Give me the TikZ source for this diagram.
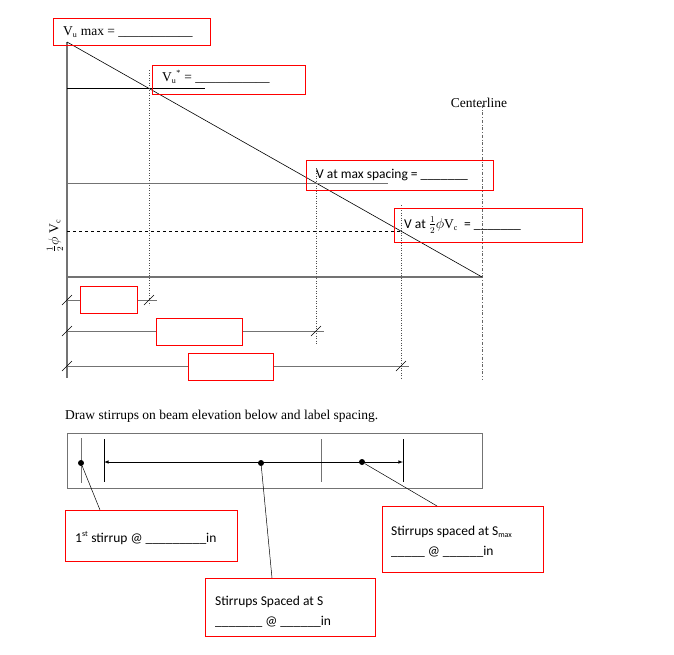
\documentclass[tikz,border=0pt]{standalone}
\usepackage{fontspec}
\setmainfont{Liberation Serif}
\newfontfamily\carl{Carlito}
\newcommand\fz{\fontsize{13.5pt}{16pt}\selectfont}
\newcommand\sbz{\fontsize{8pt}{9pt}\selectfont}
\begin{document}
\begin{tikzpicture}[x=1pt,y=-1pt,
  rb/.style={draw=red,line width=0.9pt},
  ax/.style={draw=black!55,line width=1.2pt},
  dot/.style={dotted,black!70,line width=0.5pt},
  tk/.style={line width=0.6pt},
  lbl/.style={anchor=west,inner sep=0pt,font=\fz},
  pt/.style={circle,fill=black,inner sep=0pt,minimum size=6pt}]
\useasboundingbox (0,0) rectangle (674,654);
% axes
\coordinate (top) at (67,42); \coordinate (axb) at (67,378);
\coordinate (end) at (482,277);
\draw[ax] (top) -- (axb);
\draw[ax] (67,277) -- (end);
\draw[line width=0.6pt] (top) -- (end);
\draw[line width=0.7pt] (67,88) -- (205,88);
\draw[ax,line width=0.9pt] (67,183) -- (388,183);
\draw[dashed,line width=0.6pt] (67,231) -- (401,231);
\draw[dot] (149,70) -- (149,305);
\draw[dot] (316,168) -- (316,345);
\draw[dot] (401,205) -- (401,378);
\draw[dash dot,black!60,line width=0.8pt] (482,105) -- (482,380);
\node[font=\fz,anchor=base] (cl) at (479,107) {Centerline};
\node[rotate=90,font=\fz] (half) at (55,236) {$\frac{1}{2}\phi$ V\textsubscript{\sbz c}};
% red label boxes
\draw[rb] (53,18) rectangle (210,45);
\node[lbl] (vmax) at (63,32) {V\textsubscript{\sbz u} max = \_\_\_\_\_\_\_\_\_\_\_};
\draw[rb] (152,65) rectangle (305,94);
\node[lbl] (vs) at (162,77) {V\textsubscript{\sbz u}\textsuperscript{\sbz *} = \_\_\_\_\_\_\_\_\_\_\_};
\draw[rb] (306,160) rectangle (493,190);
\node[lbl,font=\carl\fz] (vms) at (316,175) {V at max spacing = \_\_\_\_\_\_\_};
\draw[rb] (394,208) rectangle (582,242);
\node[lbl,font=\carl\fz] (vhc) at (404,225) {V at $\frac{1}{2}$\textrm{$\phi$V\textsubscript{\sbz c}} \ = \_\_\_\_\_\_\_};
% dimension lines
\foreach \y/\x in {300/149,331/316,366/401}{
  \draw[ax,line width=0.8pt] (67,\y) -- (\x+8,\y);
  \draw[tk] (62,\y+5) -- (72,\y-5);
  \draw[tk] (\x-5,\y+5) -- (\x+5,\y-5);
}
\draw[rb,fill=white] (80,286) rectangle (137,313);
\draw[rb,fill=white] (156,318) rectangle (242,345);
\draw[rb,fill=white] (188,353) rectangle (273,380);
\node[lbl] (draw) at (65,416) {Draw stirrups on beam elevation below and label spacing.};
% beam
\draw[ax,line width=0.9pt] (67,433) rectangle (482,488);
\draw[black!55,line width=1pt] (81,438) -- (81,483);
\draw[line width=0.8pt] (104,439) -- (104,482);
\draw[black!55,line width=1pt] (321,439) -- (321,482);
\draw[line width=0.8pt] (403,439) -- (403,482);
\draw[-latex,line width=0.6pt] (110,462) -- (403,462);
\draw[-latex,line width=0.6pt] (250,462) -- (104,462);
\node[pt] (d1) at (81,463) {};
\node[pt] (d2) at (261,463) {};
\node[pt] (d3) at (362,462) {};
% callouts
\draw[rb] (65,510) rectangle (237,561);
\node[lbl,font=\carl\fz] (c1) at (75,538) {1\textsuperscript{\sbz st} stirrup @ \_\_\_\_\_\_\_\_\_in};
\draw[rb] (205,578) rectangle (375,636);
\node[lbl,font=\carl\fz,align=left] (c2) at (215,612) {Stirrups Spaced at S\\[4pt] \_\_\_\_\_\_\_ @ \_\_\_\_\_\_in};
\draw[rb] (382,506) rectangle (543,572);
\node[lbl,font=\carl\fz,align=left] (c3) at (391,542) {Stirrups spaced at S\textsubscript{\sbz max}\\[4pt] \_\_\_\_\_ @ \_\_\_\_\_\_in};
\coordinate (e1) at (100,510); \coordinate (e2) at (272,578); \coordinate (e3) at (437,506);
\draw[line width=0.5pt] (d1) -- (e1);
\draw[line width=0.5pt] (d2) -- (e2);
\draw[line width=0.5pt] (d3) -- (e3);
\end{tikzpicture}
\end{document}
